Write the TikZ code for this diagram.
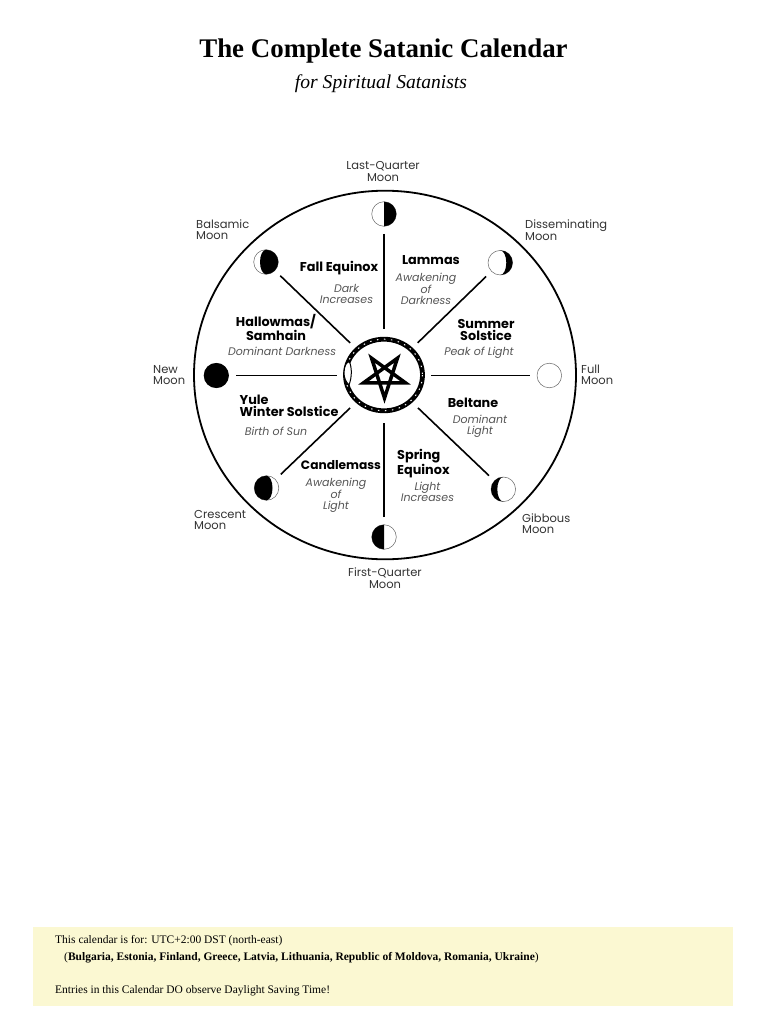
\documentclass[tikz,border=0pt]{standalone}
\usepackage{fontspec}
\setmainfont{Liberation Serif}
\newfontfamily\lab{Poppins}
\usetikzlibrary{calc}
\definecolor{note}{HTML}{FBF8D2}
\definecolor{grayt}{HTML}{555555}
\newcommand\phasefill[3]{\fill[shift={(#1.center)}] (0,-12.3) .. controls (#2*6.8,-12.3) and (#2*12.3,-6.8) .. (#2*12.3,0) .. controls (#2*12.3,6.8) and (#2*6.8,12.3) .. (0,12.3) .. controls (#3*3.3,12.3) and (#3*6,6.8) .. (#3*6,0) .. controls (#3*6,-6.8) and (#3*3.3,-12.3) .. (0,-12.3) -- cycle;}
\tikzset{
 x=1pt,y=-1pt,
 moonlab/.style={font=\lab\fontsize{11.5}{11.5}\selectfont,align=left,inner sep=0pt,text=black!80},
 moonlabc/.style={moonlab,align=center},
 fest/.style={font=\lab\bfseries\fontsize{12.8}{12.5}\selectfont,align=center,inner sep=0pt},
 sub/.style={font=\lab\itshape\fontsize{11}{10.5}\selectfont,align=center,inner sep=0pt,text=grayt},
 moon/.style={circle,draw=black!60,line width=0.5pt,minimum size=24.6pt,inner sep=0pt,outer sep=7.5pt},
 spoke/.style={line width=1.6pt},
 notet/.style={font=\fontsize{11.5}{12}\selectfont,anchor=west,inner sep=0pt},
}
\begin{document}
\begin{tikzpicture}
\useasboundingbox (0,0) rectangle (768,1024);
\fill[white] (0,0) rectangle (768,1024);
\node[inner sep=0pt,font=\bfseries\fontsize{26.9}{28}\selectfont] (title) at (383.5,51) {The Complete Satanic Calendar};
\node[inner sep=0pt,font=\itshape\fontsize{19.6}{20}\selectfont] (subtitle) at (381,83.5) {for Spiritual Satanists};
\draw[line width=1.8pt] (385,375) ellipse [x radius=191,y radius=184.3];
\node[circle,minimum size=94pt,inner sep=0pt,outer sep=0pt] (hub) at (384,375.5) {};
\coordinate (ringc) at (384,375);
% moons
\node[moon] (last) at (384,214) {};
\node[moon] (bals) at (266,262) {};
\node[moon] (new) at (216.3,375.5) {};
\node[moon] (cres) at (266.5,488) {};
\node[moon] (first) at (384,537) {};
\node[moon] (gibb) at (503.3,489.3) {};
\node[moon] (full) at (549.3,375.5) {};
\node[moon] (diss) at (500.3,262.7) {};
\foreach \m in {last,bals,new,cres,first,gibb,full,diss}{\draw[spoke] (\m) -- (hub);}
% phases
\fill (last.center) ++(0,-12.3) arc[start angle=-90,end angle=90,radius=12.3] -- cycle;
\fill (first.center) ++(0,-12.3) arc[start angle=-90,end angle=-270,radius=12.3] -- cycle;
\fill (new.center) circle (12.5);
\phasefill{bals}{1}{-1}
\phasefill{cres}{-1}{1}
\phasefill{gibb}{-1}{-1}
\phasefill{diss}{1}{1}
% moon labels
\node[moonlabc] (lastl) at (383,171.5) {Last-Quarter\\Moon};
\node[moonlabc] (firstl) at (385,578) {First-Quarter\\Moon};
\node[moonlab,anchor=west] (balsl) at (196,229.5) {Balsamic\\Moon};
\node[moonlab,anchor=west] (dissl) at (525,230) {Disseminating\\Moon};
\node[moonlab,anchor=west] (newl) at (153,375) {New\\Moon};
\node[moonlab,anchor=west] (fulll) at (581,375) {Full\\Moon};
\node[moonlab,anchor=west] (cresl) at (194,520) {Crescent\\Moon};
\node[moonlab,anchor=west] (gibbl) at (522,523.5) {Gibbous\\Moon};
% festivals
\node[fest] (f1) at (339,268.5) {Fall Equinox};
\node[sub] (s1) at (346.5,294) {Dark\\Increases};
\node[fest] (f2) at (431,260) {Lammas};
\node[sub] (s2) at (426,288.5) {Awakening\\of\\Darkness};
\node[fest] (f3) at (276,327.5) {Hallowmas/\\Samhain};
\node[sub] (s3) at (282,351.5) {Dominant Darkness};
\node[fest] (f4) at (486,330) {Summer\\Solstice};
\node[sub] (s4) at (479,353) {Peak of Light};
\node[fest,align=left,anchor=west] (f5) at (239.5,406) {Yule\\Winter Solstice};
\node[sub] (s5) at (276,431.5) {Birth of Sun};
\node[fest] (f6) at (473,403) {Beltane};
\node[sub] (s6) at (480,426.5) {Dominant\\Light};
\node[fest,font=\lab\bfseries\fontsize{12.2}{12.5}\selectfont] (f7) at (341,465.5) {Candlemass};
\node[sub] (s7) at (336,495) {Awakening\\of\\Light};
\node[fest,align=left,anchor=west] (f8) at (397,463.5) {Spring\\Equinox};
\node[sub] (s8) at (427.5,492) {Light\\Increases};
% ouroboros
\draw[line width=4.8pt] (ringc) ellipse [x radius=38.5,y radius=35.8];
\draw[white,line width=1pt,dash pattern=on 1.4pt off 5.6pt] (ringc) ellipse [x radius=38.5,y radius=35.8];
\fill[white,draw=black,line width=1pt] (344,373) .. controls (344,366) and (347,361) .. (349.5,362) .. controls (352,368) and (352,377) .. (349,385) .. controls (346,382) and (344,378) .. (344,373) -- cycle;
% pentagram
\coordinate (pc) at (384.5,376);
\foreach \i in {0,1,2,3,4}{\coordinate (q\i) at ($(pc)+({90+72*\i}:22)$);}
\draw[line width=3.5pt,line join=miter] (q0) -- (q2) -- (q4) -- (q1) -- (q3) -- cycle;
% note
\fill[note] (33,927) rectangle (733,1006);
\node[notet] (n1) at (55,941) {This calendar is for: UTC+2:00 DST (north-east)};
\node[notet] (n2) at (64,958) {(\textbf{Bulgaria, Estonia, Finland, Greece, Latvia, Lithuania, Republic of Moldova, Romania, Ukraine})};
\node[notet] (n3) at (55,991) {Entries in this Calendar DO observe Daylight Saving Time!};
\end{tikzpicture}
\end{document}
